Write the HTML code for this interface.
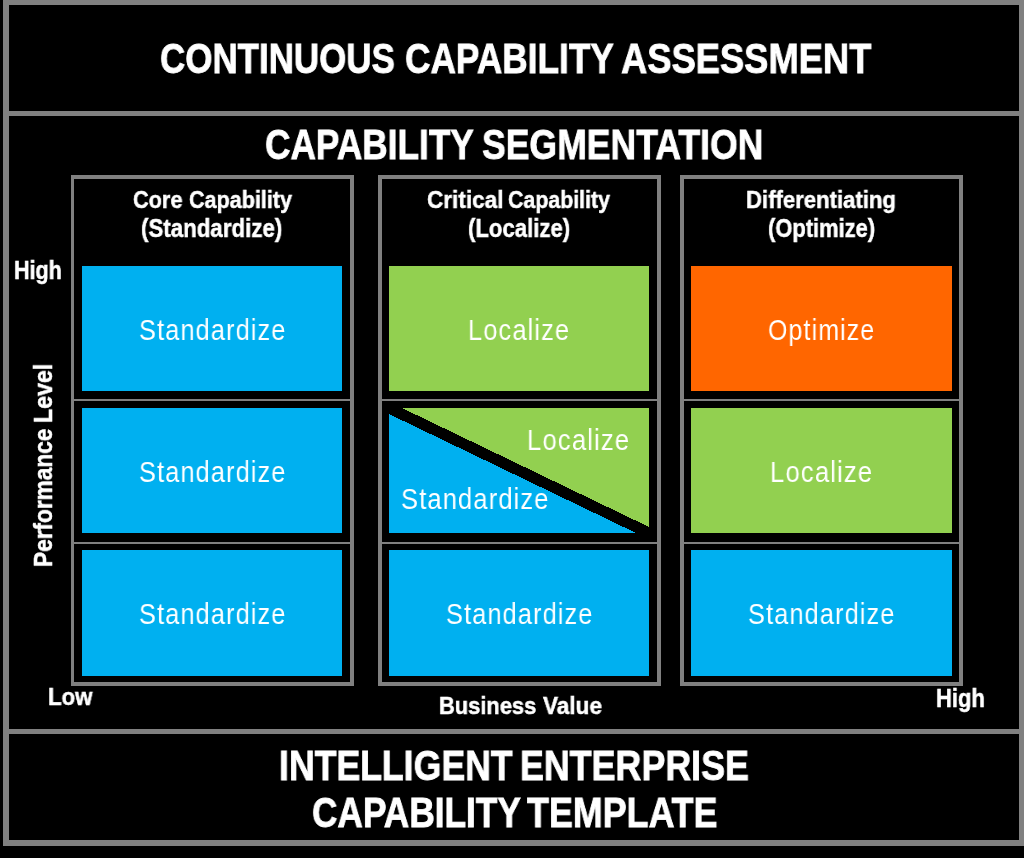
<!DOCTYPE html>
<html><head><meta charset="utf-8"><style>
html,body{margin:0;padding:0;background:#000;}
body{width:1024px;height:858px;position:relative;overflow:hidden;}
div{position:absolute;}
.t{font-family:"Liberation Sans",sans-serif;color:#fff;white-space:nowrap;line-height:1;transform-origin:0 0;will-change:transform;}
.b1{-webkit-text-stroke:0.8px #fff;}
.b2{-webkit-text-stroke:0.5px #fff;}
</style></head><body>
<div style="left:3px;top:0px;width:1021px;height:5px;background:#808080"></div>
<div style="left:3px;top:0px;width:6px;height:846px;background:#808080"></div>
<div style="left:1019px;top:0px;width:5px;height:846px;background:#808080"></div>
<div style="left:3px;top:840px;width:1021px;height:6px;background:#808080"></div>
<div style="left:3px;top:111px;width:1021px;height:5px;background:#808080"></div>
<div style="left:3px;top:729px;width:1021px;height:5px;background:#808080"></div>
<div style="left:71px;top:175px;width:283px;height:4px;background:#808080"></div>
<div style="left:71px;top:682px;width:283px;height:4px;background:#808080"></div>
<div style="left:71px;top:175px;width:3px;height:511px;background:#808080"></div>
<div style="left:350px;top:175px;width:4px;height:511px;background:#808080"></div>
<div style="left:71px;top:399px;width:283px;height:2px;background:#808080"></div>
<div style="left:71px;top:542px;width:283px;height:2px;background:#808080"></div>
<div style="left:378px;top:175px;width:283px;height:4px;background:#808080"></div>
<div style="left:378px;top:682px;width:283px;height:4px;background:#808080"></div>
<div style="left:378px;top:175px;width:4px;height:511px;background:#808080"></div>
<div style="left:657px;top:175px;width:4px;height:511px;background:#808080"></div>
<div style="left:378px;top:399px;width:283px;height:2px;background:#808080"></div>
<div style="left:378px;top:542px;width:283px;height:2px;background:#808080"></div>
<div style="left:680px;top:175px;width:283px;height:4px;background:#808080"></div>
<div style="left:680px;top:682px;width:283px;height:4px;background:#808080"></div>
<div style="left:680px;top:175px;width:4px;height:511px;background:#808080"></div>
<div style="left:959px;top:175px;width:4px;height:511px;background:#808080"></div>
<div style="left:680px;top:399px;width:283px;height:2px;background:#808080"></div>
<div style="left:680px;top:542px;width:283px;height:2px;background:#808080"></div>
<div style="left:82px;top:266px;width:260px;height:125px;background:#00b0f0"></div>
<div style="left:82px;top:408px;width:260px;height:125px;background:#00b0f0"></div>
<div style="left:82px;top:550px;width:260px;height:126px;background:#00b0f0"></div>
<div style="left:389px;top:266px;width:260px;height:125px;background:#92d050"></div>
<div style="left:389px;top:550px;width:260px;height:126px;background:#00b0f0"></div>
<div style="left:691px;top:266px;width:261px;height:125px;background:#ff6600"></div>
<div style="left:691px;top:408px;width:261px;height:125px;background:#92d050"></div>
<div style="left:691px;top:550px;width:261px;height:126px;background:#00b0f0"></div>
<svg style="position:absolute;left:0;top:0" width="1024" height="858" viewBox="0 0 1024 858" shape-rendering="crispEdges"><polygon points="402,408 649,408 649,527" fill="#92d050"/><polygon points="389,414 389,533 636,533" fill="#00b0f0"/></svg>
<div class="t b1" style="left:159.60px;top:37.04px;font-size:42.81px;font-weight:700;letter-spacing:0;transform:scaleX(0.8161)">CONTINUOUS</div>
<div class="t b1" style="left:404.59px;top:37.04px;font-size:42.81px;font-weight:700;letter-spacing:0;transform:scaleX(0.8237)">CAPABILITY</div>
<div class="t b1" style="left:620.91px;top:37.04px;font-size:42.81px;font-weight:700;letter-spacing:0;transform:scaleX(0.8491)">ASSESSMENT</div>
<div class="t b1" style="left:264.59px;top:123.04px;font-size:42.81px;font-weight:700;letter-spacing:0;transform:scaleX(0.8237)">CAPABILITY</div>
<div class="t b1" style="left:481.93px;top:123.04px;font-size:42.81px;font-weight:700;letter-spacing:0;transform:scaleX(0.8314)">SEGMENTATION</div>
<div class="t b1" style="left:278.50px;top:744.98px;font-size:42.03px;font-weight:700;letter-spacing:0;transform:scaleX(0.8482)">INTELLIGENT</div>
<div class="t b1" style="left:520.49px;top:744.98px;font-size:42.03px;font-weight:700;letter-spacing:0;transform:scaleX(0.8525)">ENTERPRISE</div>
<div class="t b1" style="left:311.59px;top:791.98px;font-size:42.03px;font-weight:700;letter-spacing:0;transform:scaleX(0.8390)">CAPABILITY</div>
<div class="t b1" style="left:526.64px;top:791.98px;font-size:42.03px;font-weight:700;letter-spacing:0;transform:scaleX(0.8533)">TEMPLATE</div>
<div class="t b2" style="left:133.13px;top:187.76px;font-size:24.64px;font-weight:700;letter-spacing:0;transform:scaleX(0.8816)">Core</div>
<div class="t b2" style="left:189.14px;top:187.76px;font-size:24.64px;font-weight:700;letter-spacing:0;transform:scaleX(0.8753)">Capability</div>
<div class="t b2" style="left:140.88px;top:214.83px;font-size:26.09px;font-weight:700;letter-spacing:0;transform:scaleX(0.8553)">(Standardize)</div>
<div class="t b2" style="left:427.10px;top:187.76px;font-size:24.64px;font-weight:700;letter-spacing:0;transform:scaleX(0.9157)">Critical</div>
<div class="t b2" style="left:508.15px;top:187.76px;font-size:24.64px;font-weight:700;letter-spacing:0;transform:scaleX(0.8667)">Capability</div>
<div class="t b2" style="left:467.89px;top:214.83px;font-size:26.09px;font-weight:700;letter-spacing:0;transform:scaleX(0.8500)">(Localize)</div>
<div class="t b2" style="left:746.45px;top:187.76px;font-size:24.64px;font-weight:700;letter-spacing:0;transform:scaleX(0.8986)">Differentiating</div>
<div class="t b2" style="left:767.90px;top:214.83px;font-size:26.09px;font-weight:700;letter-spacing:0;transform:scaleX(0.8403)">(Optimize)</div>
<div class="t b2" style="left:14.49px;top:256.83px;font-size:26.09px;font-weight:700;letter-spacing:0;transform:scaleX(0.8254)">High</div>
<div class="t b2" style="left:48.44px;top:684.76px;font-size:24.64px;font-weight:700;letter-spacing:0;transform:scaleX(0.9043)">Low</div>
<div class="t b2" style="left:936.46px;top:684.83px;font-size:26.09px;font-weight:700;letter-spacing:0;transform:scaleX(0.8437)">High</div>
<div class="t b2" style="left:439.47px;top:693.76px;font-size:24.64px;font-weight:700;letter-spacing:0;transform:scaleX(0.8885)">Business</div>
<div class="t b2" style="left:542.77px;top:693.76px;font-size:24.64px;font-weight:700;letter-spacing:0;transform:scaleX(0.9160)">Value</div>
<div class="t" style="left:138.73px;top:316.06px;font-size:28.99px;font-weight:400;letter-spacing:0.045em;transform:scaleX(0.8731)">Standardize</div>
<div class="t" style="left:467.97px;top:316.06px;font-size:28.99px;font-weight:400;letter-spacing:0.045em;transform:scaleX(0.8759)">Localize</div>
<div class="t" style="left:767.75px;top:316.06px;font-size:28.99px;font-weight:400;letter-spacing:0.045em;transform:scaleX(0.8604)">Optimize</div>
<div class="t" style="left:138.73px;top:458.06px;font-size:28.99px;font-weight:400;letter-spacing:0.045em;transform:scaleX(0.8731)">Standardize</div>
<div class="t" style="left:769.95px;top:458.06px;font-size:28.99px;font-weight:400;letter-spacing:0.045em;transform:scaleX(0.8848)">Localize</div>
<div class="t" style="left:138.73px;top:600.06px;font-size:28.99px;font-weight:400;letter-spacing:0.045em;transform:scaleX(0.8731)">Standardize</div>
<div class="t" style="left:445.73px;top:600.06px;font-size:28.99px;font-weight:400;letter-spacing:0.045em;transform:scaleX(0.8731)">Standardize</div>
<div class="t" style="left:747.73px;top:600.06px;font-size:28.99px;font-weight:400;letter-spacing:0.045em;transform:scaleX(0.8731)">Standardize</div>
<div class="t" style="left:526.95px;top:426.06px;font-size:28.99px;font-weight:400;letter-spacing:0.045em;transform:scaleX(0.8848)">Localize</div>
<div class="t" style="left:400.73px;top:485.06px;font-size:28.99px;font-weight:400;letter-spacing:0.045em;transform:scaleX(0.8792)">Standardize</div>
<div class="t b2" style="left:30.13px;top:566.98px;font-size:26.09px;font-weight:700;transform:rotate(-90deg) scaleX(0.8674)">Performance</div>
<div class="t b2" style="left:30.13px;top:423.02px;font-size:26.09px;font-weight:700;transform:rotate(-90deg) scaleX(0.8871)">Level</div>
</body></html>
